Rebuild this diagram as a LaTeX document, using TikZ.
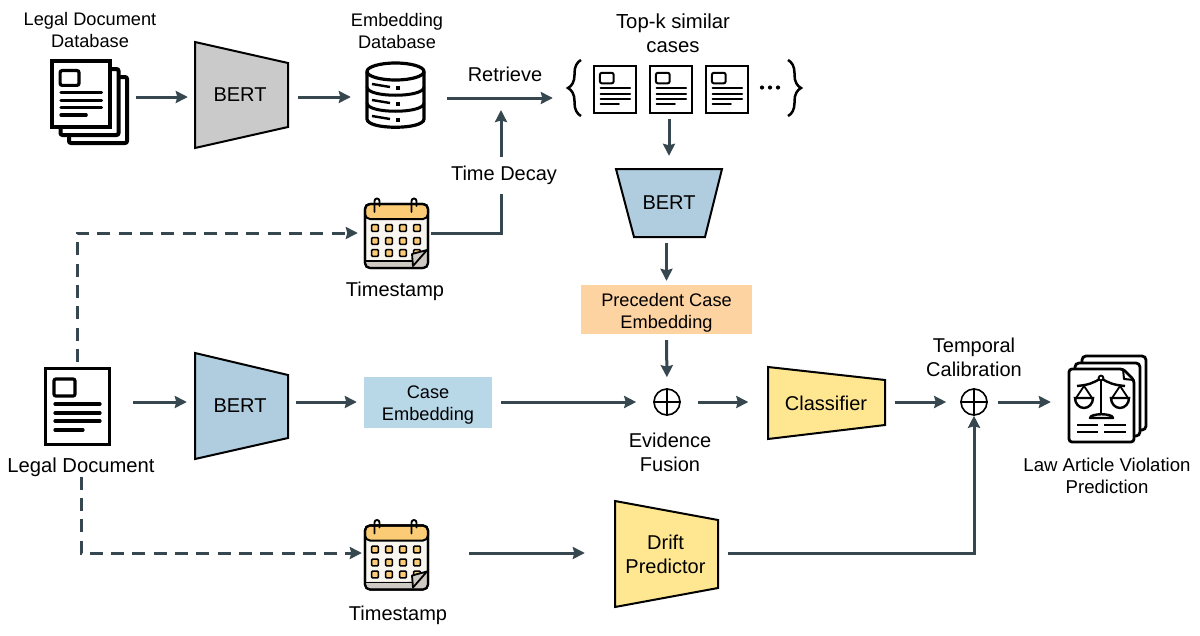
\documentclass[tikz,border=0pt]{standalone}
\usepackage{fontspec}
\setmainfont{Liberation Sans}
\usetikzlibrary{arrows.meta}
\usetikzlibrary{calc}
\usetikzlibrary{decorations.pathreplacing}

\definecolor{flowcolor}{HTML}{37474F}
\definecolor{graybert}{HTML}{C9CAC9}
\definecolor{bluebert}{HTML}{AFCDDF}
\definecolor{caseblue}{HTML}{B8D8E8}
\definecolor{precorange}{HTML}{FDD3A2}
\definecolor{headyellow}{HTML}{FFE792}
\definecolor{calhead}{HTML}{FBCB76}
\definecolor{calbody}{HTML}{F9F6F0}
\definecolor{calcurl}{HTML}{CFC9C3}

\tikzset{
	big/.style={font=\fontsize{20}{24}\selectfont,align=center,inner sep=0pt},
	mid/.style={font=\fontsize{18.2}{22}\selectfont,align=center,inner sep=0pt},
	flow/.style={draw=flowcolor,line width=3pt,-{Stealth[length=12pt,width=12pt,inset=1.5pt]}},
	dashflow/.style={flow,dash pattern=on 13pt off 8.3pt},
	block/.style={draw=black,line width=2pt,line join=miter},
	slot/.style={inner sep=0pt,minimum width=#1},
	slot/.default=10pt,
	fuse/.style={draw=black,circle,line width=1.6pt,minimum size=26pt,inner sep=0pt},
	pics/sheet/.style 2 args={code={
		\draw[fill=white,line width=#1] (0,0) rectangle (64,76);
		\draw[line width=#2,rounded corners=2pt] (9,11) rectangle (30,28);
		\foreach \rowy/\rowend in {36/55,45/55,53/55,62/38} {
			\draw[line width=#2,line cap=round] (10,\rowy) -- (\rowend,\rowy);
		}
	}},
	pics/calendar/.style={code={
		\draw[fill=calbody,line width=2.2pt,rounded corners=5pt] (0,6) rectangle (63,70);
		\fill[calcurl,rounded corners=4pt] (1,62) -- (1,69) -- (62,69) -- (62,52) -- (47,62) -- cycle;
		\draw[fill=calhead,line width=2pt,rounded corners=5pt] (0,21) -- (0,6) -- (63,6) -- (63,21) -- cycle;
		\foreach \ringx in {12,49} {
			\draw[line width=1.9pt,line cap=round] (\ringx-2.5,14) -- (\ringx-2.5,3) arc (180:360:2.5) -- (\ringx+2.5,8);
		}
		\foreach \celly in {30,43,55} {
			\foreach \cellx in {10,24,38,52} {
				\draw[fill=calhead,line width=1.6pt,rounded corners=1pt] (\cellx-3.4,\celly-3.4) rectangle (\cellx+3.4,\celly+3.4);
			}
		}
		\draw[fill=calcurl,line width=1.8pt,line join=round] (62,52) -- (47,56) -- (48,68) -- cycle;
		\draw[line width=2.2pt,rounded corners=5pt] (0,6) rectangle (63,70);
		\draw[line width=1.2pt] (0,63) -- (47,63);
	}},
}

\begin{document}
\begin{tikzpicture}[x=1pt,y=-1pt]
	\useasboundingbox (0,0) rectangle (1200,635);
	\fill[white] (0,0) rectangle (1200,635);
	\coordinate (topline) at (0,97);
	\coordinate (retline) at (0,98);
	\coordinate (midline) at (0,402);
	\coordinate (lowline) at (0,553);
	\coordinate (hit) at (501,110);

	% top row
	\foreach \page/\pagey in {2/16,1/8} {
		\draw[fill=white,line width=4pt,rounded corners=2pt] (52+\page*8.5,61+\pagey) rectangle (110+\page*8.5,127+\pagey);
	}
	\pic[xscale=.9,yscale=.87] at (52,61) {sheet={4pt}{3.2pt}};
	\node[slot=75pt,minimum height=82pt] (docstack) at (89.5,102) {};
	\node[mid] (stacklabel) at (90,30) {Legal Document\\Database};

	\draw[block,fill=graybert] (195,42) -- (288,63) -- (288,127) -- (195,148) -- cycle;
	\node[big,slot=90pt,minimum height=20pt] (bertgray) at (240,95) {BERT};

	\draw[line width=3.2pt,fill=white] (367,72) -- (367,119) .. controls (367,130) and (424,130) .. (424,119) -- (424,72);
	\draw[line width=3.2pt] (395.5,71.5) ellipse (28.5 and 8.5);
	\foreach \bandy in {87,103} {
		\draw[line width=3pt] (367,\bandy) .. controls (367,\bandy+11) and (424,\bandy+11) .. (424,\bandy);
	}
	\foreach \doty in {86,102,118} {
		\fill (396,\doty) rectangle (400,\doty+4);
		\draw[line width=2.4pt] (372,\doty-2) -- (390,\doty+1);
	}
	\node[slot=57pt,minimum height=64pt] (embdb) at (395.5,95) {};
	\node[mid] (embdblabel) at (397,31) {Embedding\\Database};

	\node[big] (retrieve) at (505,74) {Retrieve};
	\foreach \casex in {594,650,706} {
		\pic[xscale=.656,yscale=.618] at (\casex,66) {sheet={2.4pt}{2pt}};
	}
	\foreach \dotx in {762,770,778} {
		\fill (\dotx,87.5) circle (2.1);
	}
	\draw[line width=2.5pt,decorate,decoration={brace,amplitude=13pt}] (581,116) -- (581,60);
	\draw[line width=2.5pt,decorate,decoration={brace,amplitude=13pt}] (788,60) -- (788,116);
	\node[slot=233pt,minimum height=56pt] (topk) at (684.5,88) {};
	\node[big,font=\fontsize{20.3}{24}\selectfont] (topklabel) at (673,33) {Top-k similar\\cases};

	% retrieval side
	\draw[block,fill=bluebert] (616,169) -- (722,169) -- (705,237) -- (634,237) -- cycle;
	\node[big,slot=106pt,minimum height=68pt] (bertcase) at (669,203) {BERT};
	\node[fill=precorange,minimum width=171pt,minimum height=49pt] (precedent) at (666.5,309.5) {};
	\node[mid] (precedentlabel) at (666.5,312.5) {Precedent Case\\Embedding};

	\pic at (365,198) {calendar};
	\node[slot=63pt,minimum height=70pt] (stampup) at (396.5,233) {};
	\node[big] (stampuplabel) at (395,291) {Timestamp};

	% middle row
	\pic at (45,368) {sheet={3pt}{3.2pt}};
	\node[slot=64pt,minimum height=76pt] (legaldoc) at (77,406) {};
	\node[big,font=\fontsize{20.2}{24}\selectfont] (legallabel) at (81,467) {Legal Document};

	\draw[block,fill=bluebert] (195,353) -- (288,375) -- (288,438) -- (195,459) -- cycle;
	\node[big,slot=90pt,minimum height=20pt] (bertlegal) at (240,405.5) {BERT};
	\node[fill=caseblue,minimum width=128pt,minimum height=51pt] (caseemb) at (428,402.5) {};
	\node[mid] (caseemblabel) at (428,405.5) {Case\\Embedding};
	\node[fuse] (evidence) at (667,402) {};
	\node[big] (evidencelabel) at (670,452) {Evidence\\Fusion};

	\draw[block,fill=headyellow] (768,367) -- (885,380) -- (885,425) -- (768,439) -- cycle;
	\node[big,slot=117pt,minimum height=20pt] (classifier) at (826,403) {Classifier};
	\node[fuse] (temporal) at (974,402) {};
	\node[big] (temporallabel) at (974,357) {Temporal\\Calibration};

	\foreach \fusion in {evidence,temporal} {
		\draw[line width=1.6pt] (\fusion.north) -- (\fusion.south) (\fusion.west) -- (\fusion.east);
	}

	% law article icon
	\draw[fill=white,line width=2.8pt,rounded corners=4pt] (1082,356) rectangle (1146,430);
	\draw[fill=white,line width=2.8pt,rounded corners=4pt] (1075,363) rectangle (1140,436);
	\draw[fill=white,line width=2.8pt,rounded corners=3pt] (1123,369) -- (1069,369) -- (1069,442) -- (1134,442) -- (1134,380) -- cycle;
	\draw[line width=2pt,line join=round] (1123,369) -- (1124,379) -- (1134,380);
	\draw[line width=2.4pt] (1101,380) -- (1101,415);
	\draw[line width=2.4pt] (1077,386) .. controls (1088,385) and (1094,383) .. (1101,378) .. controls (1108,383) and (1114,385) .. (1125,386);
	\draw[fill=white,line width=1.8pt] (1101,378) circle (2.4);
	\foreach \panx in {1084,1120} {
		\draw[line width=1.8pt] (\panx-8,398) -- (\panx,386) -- (\panx+8,398);
		\draw[line width=2.4pt] (\panx-9,398) -- (\panx+9,398) arc (0:180:9 and 10) -- cycle;
	}
	\draw[line width=2.4pt,line join=round] (1090,418) .. controls (1090,413) and (1113,413) .. (1113,418) -- cycle;
	\foreach \liney in {425,432} {
		\draw[line width=2.4pt] (1077,\liney) -- (1098,\liney) (1104,\liney) -- (1126,\liney);
	}
	\node[slot=78pt,minimum height=87pt] (lawicon) at (1107,399.5) {};
	\node[mid,font=\fontsize{18.6}{22}\selectfont] (lawlabel) at (1107,476) {Law Article Violation\\Prediction};

	% bottom row
	\pic at (365,519.5) {calendar};
	\node[slot=63pt,minimum height=70pt] (stamplow) at (396.5,553) {};
	\node[big] (stamplowlabel) at (398,615) {Timestamp};

	\draw[block,fill=headyellow] (615,501) -- (718,520) -- (718,588) -- (615,607) -- cycle;
	\node[big,slot=103pt,minimum height=20pt] (drift) at (665.5,554.5) {Drift\\Predictor};

	% connectors
	\draw[flow,shorten <=9pt,shorten >=7pt] (docstack.east |- topline) -- (bertgray.west |- topline);
	\draw[flow,shorten <=13pt,shorten >=16pt] (bertgray.east |- topline) -- (embdb.west |- topline);
	\draw[flow,shorten <=23pt,shorten >=15pt] (embdb.east |- retline) -- (topk.west |- retline);
	\draw[flow,shorten <=3pt] (topk.south -| bertcase.north) -- ($(bertcase.north)+(0,-13)$);
	\draw[flow,shorten <=6pt,shorten >=4pt] (bertcase.south -| precedent.north) -- (precedent.north);
	\draw[flow,shorten <=6pt,shorten >=11pt] (precedent.south) -- (evidence.north);
	\draw[flow,shorten <=3pt] (stampup.east) -| (hit);
	\node[big,fill=white,minimum height=37pt,inner xsep=2pt] (timedecay) at (504,175) {Time Decay};
	\draw[dashflow,shorten <=6pt,shorten >=7pt] (legaldoc.north) |- (stampup.west);
	\draw[dashflow,shorten >=3pt] (legallabel.south) |- (stamplow.west);
	\draw[flow,shorten <=24pt,shorten >=8pt] (legaldoc.east |- midline) -- (bertlegal.west |- midline);
	\draw[flow,shorten <=11pt,shorten >=7pt] (bertlegal.east |- midline) -- (caseemb.west |- midline);
	\draw[flow,shorten <=9pt,shorten >=17pt] (caseemb.east |- midline) -- (evidence.west);
	\draw[flow,shorten <=17pt,shorten >=19pt] (evidence.east) -- (classifier.west |- midline);
	\draw[flow,shorten <=10pt,shorten >=14pt] (classifier.east |- midline) -- (temporal.west);
	\draw[flow,shorten <=10pt,shorten >=17pt] (temporal.east) -- (lawicon.west |- midline);
	\draw[flow,shorten <=41pt,shorten >=29pt] (stamplow.east) -- (drift.west |- lowline);
	\draw[flow,shorten <=11pt] (drift.east |- lowline) -| (temporal.south);
\end{tikzpicture}
\end{document}
